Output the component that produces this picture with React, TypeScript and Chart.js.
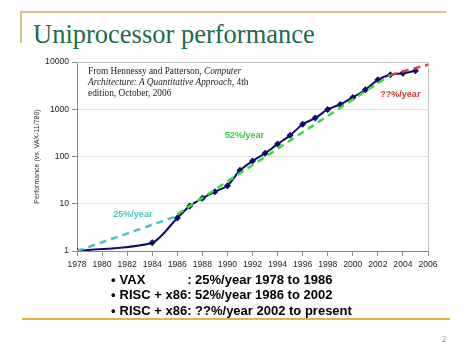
import React, { useEffect, useRef } from "react";
import { Chart, registerables } from "chart.js";

Chart.register(...registerables);

// ---- data ----
const years = [1978, 1984, 1986, 1987, 1988, 1989, 1990, 1991, 1992, 1993, 1994, 1995, 1996, 1997, 1998, 1999, 2000, 2001, 2002, 2003, 2004, 2005];
const performance = [1, 1.5, 5, 9, 13, 18, 24, 51, 80, 117, 183, 280, 481, 649, 993, 1267, 1779, 2584, 4195, 5364, 5764, 6505];

const vaxTrendYears = [1978, 1986];
const vaxTrendValues = [1, 5.5];
const riscTrendYears = [1986, 2003];
const riscTrendValues = [6, 5300];
const recentTrendYears = [2003, 2006];
const recentTrendValues = [5300, 8800];

const yTickValues = [1, 10, 100, 1000, 10000];
const xMin = 1978;
const xMax = 2006;
const xStep = 2;

const rateLabels = ["25%/year", "52%/year", "??%/year"];
const rateLabelYears = [1980.9, 1989.8, 2002.2];
const rateLabelValues = [6.06, 283, 2100];
const rateLabelColors = ["#4ec3c3", "#35d035", "#d83333"];

const yAxisTitle = "Performance (vs. VAX-11/780)";
const titleText = "Uniprocessor performance";
const citationLines = [
  ["From Hennessy and Patterson, ", "Computer"],
  ["Architecture: A Quantitative Approach", ", 4th"],
  ["edition, October, 2006", ""],
];
const bulletLabels = ["VAX", "RISC + x86", "RISC + x86"];
const bulletTexts = [": 25%/year 1978 to 1986", ": 52%/year 1986 to 2002", ": ??%/year 2002 to present"];
const pageNumber = "2";

const SANS = '"Liberation Sans", Arial, sans-serif';
const SERIF = '"Liberation Serif", "Times New Roman", serif';

const pts = (xs: number[], ys: number[]) => xs.map((x, i) => ({ x, y: ys[i] }));

const framePlugin = {
  id: "frameAndLabels",
  beforeDatasetsDraw(chart: any) {
    const { ctx, chartArea } = chart;
    const { left, right, top, bottom } = chartArea;
    ctx.save();
    ctx.strokeStyle = "#c4c4c4";
    ctx.lineWidth = 1;
    ctx.beginPath();
    ctx.moveTo(left, Math.round(top) + 0.5);
    ctx.lineTo(Math.round(right) + 0.5, Math.round(top) + 0.5);
    ctx.lineTo(Math.round(right) + 0.5, bottom);
    ctx.stroke();
    ctx.restore();
  },
  afterDatasetsDraw(chart: any) {
    const { ctx } = chart;
    const xs = chart.scales.x;
    const ys = chart.scales.y;
    ctx.save();
    ctx.font = `bold 9px ${SANS}`;
    ctx.textAlign = "left";
    ctx.textBaseline = "middle";
    rateLabels.forEach((t, i) => {
      ctx.fillStyle = rateLabelColors[i];
      ctx.fillText(t, xs.getPixelForValue(rateLabelYears[i]), ys.getPixelForValue(rateLabelValues[i]));
    });
    ctx.restore();
  },
};

function PerfChart() {
  const ref = useRef<HTMLCanvasElement | null>(null);
  useEffect(() => {
    if (!ref.current) return;
    const dashed = (data: any, color: string, order: number) => ({
      data,
      borderColor: color,
      backgroundColor: color,
      borderWidth: 2.5,
      borderDash: [7, 5],
      pointRadius: 0,
      fill: false,
      tension: 0,
      order,
    });
    const chart = new Chart(ref.current, {
      type: "line",
      data: {
        datasets: [
          {
            data: pts(years, performance),
            borderColor: "#0c0c6e",
            backgroundColor: "#0c0c6e",
            borderWidth: 2,
            pointStyle: "rectRot",
            pointRadius: 3.5,
            pointBorderWidth: 0,
            tension: 0.25,
            fill: false,
            order: 3,
          } as any,
          dashed(pts(vaxTrendYears, vaxTrendValues), "#4ec3c3", 1),
          dashed(pts(riscTrendYears, riscTrendValues), "#3cdc3c", 1),
          dashed(pts(recentTrendYears, recentTrendValues), "#e04040", 1),
        ],
      },
      options: {
        animation: false,
        responsive: false,
        devicePixelRatio: 1,
        layout: { padding: { left: 29, top: 62, right: 46, bottom: 84 } },
        plugins: { legend: { display: false }, tooltip: { enabled: false } },
        scales: {
          x: {
            type: "linear",
            min: xMin,
            max: xMax,
            afterFit: (s: any) => { s.height = 20; },
            afterBuildTicks: (s: any) => {
              const t = [];
              for (let v = xMin; v <= xMax; v += xStep) t.push({ value: v });
              s.ticks = t;
            },
            ticks: {
              callback: (v: any) => String(v),
              font: { family: SANS, size: 8.6 },
              color: "#222",
              padding: 3,
              maxRotation: 0,
              autoSkip: false,
            },
            grid: { drawOnChartArea: false, drawTicks: true, tickLength: 5, tickColor: "#8a8a8a", color: "#8a8a8a" },
            border: { color: "#8a8a8a", width: 1 },
          },
          y: {
            type: "logarithmic",
            min: 1,
            max: 10000,
            afterFit: (s: any) => { s.width = 48; },
            afterBuildTicks: (s: any) => { s.ticks = yTickValues.map((v) => ({ value: v })); },
            ticks: {
              callback: (v: any) => String(v),
              font: { family: SANS, size: 8.6 },
              color: "#222",
              padding: 3,
              autoSkip: false,
            },
            grid: { color: "#e2e2e2", tickLength: 5, tickColor: "#8a8a8a" },
            border: { color: "#8a8a8a", width: 1 },
            title: {
              display: true,
              text: yAxisTitle,
              font: { family: SANS, size: 7 },
              color: "#333",
              padding: { top: 4, bottom: 4 },
            },
          },
        },
      },
      plugins: [framePlugin],
    } as any);
    return () => chart.destroy();
  }, []);
  return <canvas ref={ref} width={474} height={355} style={{ position: "absolute", left: 0, top: 0 }} />;
}

export default function App() {
  return (
    <div style={{ position: "fixed", left: 0, top: 0, width: 474, height: 355, background: "#fff", overflow: "hidden" }}>
      {/* slide decorations */}
      <div style={{ position: "absolute", left: 20, top: 11, width: 426, height: 2, background: "#d6c68c" }} />
      <div style={{ position: "absolute", left: 20, top: 11, width: 2, height: 32, background: "#d6c68c" }} />
      <div style={{ position: "absolute", left: 22, top: 318, width: 428, height: 1.5, background: "#e2b53c" }} />
      <div style={{ position: "absolute", left: 33, top: 17, fontFamily: SERIF, fontSize: 26.5, color: "#1c6b4c", whiteSpace: "nowrap", lineHeight: "34px" }}>
        {titleText}
      </div>
      <PerfChart />
      <div style={{ position: "absolute", left: 88, top: 66, fontFamily: SERIF, fontSize: 9.3, lineHeight: "11px", color: "#222", whiteSpace: "nowrap" }}>
        {citationLines.map((l, i) => (
          <div key={i}>
            {i === 1 ? <i>{l[0]}</i> : l[0]}
            {i === 0 ? <i>{l[1]}</i> : l[1]}
          </div>
        ))}
      </div>
      <div style={{ position: "absolute", left: 111, top: 271.5, display: "grid", gridTemplateColumns: "auto auto auto", fontFamily: SANS, fontWeight: "bold", fontSize: 13, lineHeight: "15.5px", color: "#000", whiteSpace: "nowrap" }}>
        {bulletLabels.map((lab, i) => (
          <React.Fragment key={i}>
            <span style={{ paddingRight: 4 }}>•</span>
            <span>{lab}</span>
            <span>{bulletTexts[i]}</span>
          </React.Fragment>
        ))}
      </div>
      <div style={{ position: "absolute", left: 442, top: 335, fontFamily: SERIF, fontSize: 8, color: "#777" }}>{pageNumber}</div>
    </div>
  );
}
